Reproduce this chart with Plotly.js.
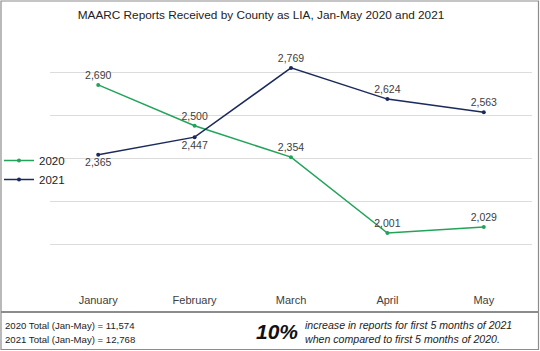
<!DOCTYPE html>
<html><head><meta charset="utf-8">
<script src="https://cdn.plot.ly/plotly-3.0.1.min.js"></script>
<style>html,body{margin:0;padding:0;background:#fff}#chart{width:540px;height:351px}</style>
</head><body><div id="chart"></div>
<script>
const months = ["January", "February", "March", "April", "May"];
const values2020 = [2690, 2500, 2354, 2001, 2029];
const values2021 = [2365, 2447, 2769, 2624, 2563];
const labels2020 = ["2,690", "2,500", "2,354", "2,001", "2,029"];
const labels2021 = ["2,365", "2,447", "2,769", "2,624", "2,563"];
const pos2020 = ["top center", "top center", "top center", "top center", "top center"];
const pos2021 = ["bottom center", "bottom center", "top center", "top center", "top center"];
const totalsText = ["2020 Total (Jan-May) = 11,574", "2021 Total (Jan-May) = 12,768"];
const pctText = "10%";
const noteText = ["increase in reports for first 5 months of 2021", "when compared to first 5 months of 2020."];

const W = 540, H = 351;
const M = {l: 50, r: 8, t: 28, b: 63, autoexpand: false};
const pw = W - M.l - M.r, ph = H - M.t - M.b;
const px = x => (x - M.l) / pw;
const py = y => (H - M.b - y) / ph;

const FONT = "Liberation Sans, Arial, sans-serif";
const green = "#23a35a", navy = "#1b2a5c";

const traces = [
  {x: months, y: values2020, name: "2020", mode: "lines+markers+text", text: labels2020, textposition: pos2020,
   line: {color: green, width: 1.5}, marker: {color: green, size: 4}, textfont: {size: 10.5, color: "#404040"}, hoverinfo: "skip"},
  {x: months, y: values2021, name: "2021", mode: "lines+markers+text", text: labels2021, textposition: pos2021,
   line: {color: navy, width: 1.5}, marker: {color: navy, size: 4}, textfont: {size: 10.5, color: "#404040"}, hoverinfo: "skip"}
];

const layout = {
  width: W, height: H,
  margin: M,
  paper_bgcolor: "#fff", plot_bgcolor: "#fff",
  font: {family: FONT, color: "#404040", size: 11},
  title: {text: "MAARC Reports Received by County as LIA, Jan-May 2020 and 2021", x: 261 / W, xanchor: "center", xref: "container",
          y: 1 - 15 / H, yanchor: "middle", yref: "container", font: {size: 11.8, color: "#222", family: FONT}},
  xaxis: {type: "category", range: [-0.5, 4.5], showgrid: false, zeroline: false, showline: false, ticks: "", ticklabelstandoff: 4,
          tickfont: {size: 11, color: "#404040"}, fixedrange: true},
  yaxis: {range: [1745.35, 2954.65], tick0: 1750, dtick: 200, showticklabels: false, showgrid: true, gridcolor: "#dcdcdc", gridwidth: 1,
          zeroline: false, showline: false, ticks: "", fixedrange: true},
  showlegend: true,
  legend: {x: px(-1), xanchor: "left", y: py(146), yanchor: "top",
           font: {size: 11.5, color: "#222"}, itemwidth: 30, tracegroupgap: 0, bgcolor: "rgba(0,0,0,0)", borderwidth: 0},
  shapes: [
    {type: "rect", xref: "paper", yref: "paper", x0: px(1), x1: px(538.5), y0: py(1), y1: py(349.5), line: {color: "#8c8c8c", width: 1.2}},
    {type: "line", xref: "paper", yref: "paper", x0: px(1), x1: px(538.5), y0: py(312), y1: py(312), line: {color: "#8c8c8c", width: 2}}
  ],
  annotations: [
    {xref: "paper", yref: "paper", x: px(3), y: py(325), xanchor: "left", yanchor: "middle", showarrow: false, text: totalsText[0], font: {size: 9.6, color: "#222"}},
    {xref: "paper", yref: "paper", x: px(3), y: py(339), xanchor: "left", yanchor: "middle", showarrow: false, text: totalsText[1], font: {size: 9.6, color: "#222"}},
    {xref: "paper", yref: "paper", x: px(300), y: py(331), xanchor: "right", yanchor: "middle", showarrow: false, text: "<b><i>" + pctText + "</i></b>", font: {size: 21, color: "#111"}},
    {xref: "paper", yref: "paper", x: px(303), y: py(325), xanchor: "left", yanchor: "middle", showarrow: false, text: "<i>" + noteText[0] + "</i>", font: {size: 10.6, color: "#222"}},
    {xref: "paper", yref: "paper", x: px(303), y: py(339), xanchor: "left", yanchor: "middle", showarrow: false, text: "<i>" + noteText[1] + "</i>", font: {size: 10.6, color: "#222"}}
  ]
};
Plotly.newPlot("chart", traces, layout, {displayModeBar: false, staticPlot: true});
</script></body></html>
